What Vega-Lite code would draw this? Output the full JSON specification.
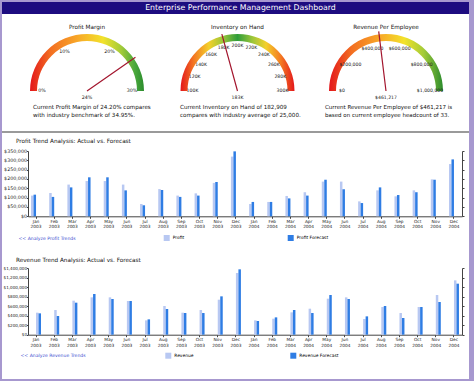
{
  "$schema": "https://vega.github.io/schema/vega-lite/v6.json",
  "background": "#a798cf",
  "padding": {"left": 2, "top": 2, "right": 5, "bottom": 4},
  "spacing": 0,
  "resolve": {"scale": {"color": "independent", "theta": "independent"}, "legend": {"color": "independent"}},
  "config": {
    "font": "DejaVu Sans",
    "view": {"stroke": null, "fill": "white"},
    "concat": {"spacing": 0},
    "title": {"fontWeight": "normal", "color": "#111111", "font": "DejaVu Sans"},
    "axis": {"labelFont": "DejaVu Sans", "labelColor": "#222222", "domainColor": "#444444", "tickColor": "#444444", "grid": false}
  },
  "datasets": {
    "profit": [
      {"month": "Jan 2003", "Profit": 111000, "Profit Forecast": 116000},
      {"month": "Feb 2003", "Profit": 125000, "Profit Forecast": 104000},
      {"month": "Mar 2003", "Profit": 170000, "Profit Forecast": 155000},
      {"month": "Apr 2003", "Profit": 189000, "Profit Forecast": 209000},
      {"month": "May 2003", "Profit": 189000, "Profit Forecast": 209000},
      {"month": "Jun 2003", "Profit": 170000, "Profit Forecast": 139000},
      {"month": "Jul 2003", "Profit": 66000, "Profit Forecast": 59000},
      {"month": "Aug 2003", "Profit": 146000, "Profit Forecast": 141000},
      {"month": "Sep 2003", "Profit": 111000, "Profit Forecast": 104000},
      {"month": "Oct 2003", "Profit": 123000, "Profit Forecast": 111000},
      {"month": "Nov 2003", "Profit": 179000, "Profit Forecast": 184000},
      {"month": "Dec 2003", "Profit": 320000, "Profit Forecast": 348000},
      {"month": "Jan 2004", "Profit": 66000, "Profit Forecast": 77000},
      {"month": "Feb 2004", "Profit": 77000, "Profit Forecast": 77000},
      {"month": "Mar 2004", "Profit": 109000, "Profit Forecast": 96000},
      {"month": "Apr 2004", "Profit": 129000, "Profit Forecast": 111000},
      {"month": "May 2004", "Profit": 186000, "Profit Forecast": 196000},
      {"month": "Jun 2004", "Profit": 186000, "Profit Forecast": 145000},
      {"month": "Jul 2004", "Profit": 80000, "Profit Forecast": 71000},
      {"month": "Aug 2004", "Profit": 139000, "Profit Forecast": 155000},
      {"month": "Sep 2004", "Profit": 107000, "Profit Forecast": 114000},
      {"month": "Oct 2004", "Profit": 139000, "Profit Forecast": 129000},
      {"month": "Nov 2004", "Profit": 198000, "Profit Forecast": 196000},
      {"month": "Dec 2004", "Profit": 280000, "Profit Forecast": 305000}
    ],
    "revenue": [
      {"month": "Jan 2003", "Revenue": 462000, "Revenue Forecast": 448000},
      {"month": "Feb 2003", "Revenue": 518000, "Revenue Forecast": 392000},
      {"month": "Mar 2003", "Revenue": 714000, "Revenue Forecast": 672000},
      {"month": "Apr 2003", "Revenue": 784000, "Revenue Forecast": 854000},
      {"month": "May 2003", "Revenue": 784000, "Revenue Forecast": 749000},
      {"month": "Jun 2003", "Revenue": 707000, "Revenue Forecast": 707000},
      {"month": "Jul 2003", "Revenue": 301000, "Revenue Forecast": 322000},
      {"month": "Aug 2003", "Revenue": 602000, "Revenue Forecast": 539000},
      {"month": "Sep 2003", "Revenue": 462000, "Revenue Forecast": 455000},
      {"month": "Oct 2003", "Revenue": 518000, "Revenue Forecast": 455000},
      {"month": "Nov 2003", "Revenue": 735000, "Revenue Forecast": 805000},
      {"month": "Dec 2003", "Revenue": 1295000, "Revenue Forecast": 1372000},
      {"month": "Jan 2004", "Revenue": 301000, "Revenue Forecast": 287000},
      {"month": "Feb 2004", "Revenue": 336000, "Revenue Forecast": 364000},
      {"month": "Mar 2004", "Revenue": 469000, "Revenue Forecast": 518000},
      {"month": "Apr 2004", "Revenue": 546000, "Revenue Forecast": 455000},
      {"month": "May 2004", "Revenue": 756000, "Revenue Forecast": 833000},
      {"month": "Jun 2004", "Revenue": 784000, "Revenue Forecast": 749000},
      {"month": "Jul 2004", "Revenue": 329000, "Revenue Forecast": 385000},
      {"month": "Aug 2004", "Revenue": 581000, "Revenue Forecast": 602000},
      {"month": "Sep 2004", "Revenue": 455000, "Revenue Forecast": 350000},
      {"month": "Oct 2004", "Revenue": 581000, "Revenue Forecast": 581000},
      {"month": "Nov 2004", "Revenue": 833000, "Revenue Forecast": 686000},
      {"month": "Dec 2004", "Revenue": 1141000, "Revenue Forecast": 1071000}
    ]
  },
  "vconcat": [
    {
      "width": 467, "height": 12,
      "view": {"fill": "#1d0c80", "stroke": null},
      "data": {"values": [{"t": "Enterprise Performance Management Dashboard"}]},
      "mark": {"type": "text", "color": "white", "fontSize": 7.8, "dx": 5, "baseline": "middle"},
      "encoding": {"text": {"field": "t"}}
    },
    {
      "spacing": -28.85,
      "resolve": {"scale": {"theta": "independent"}},
      "vconcat": [
        {
          "width": 467, "height": 37,
          "view": {"fill": "white", "stroke": null},
          "data": {"values": [{}]},
          "mark": {"type": "text", "text": "", "fontSize": 0.1}
        },
        {
          "bounds": "flush",
          "spacing": 0,
          "resolve": {"scale": {"theta": "independent"}},
          "hconcat": [
            {
              "width": 170, "height": 80,
              "view": {"fill": "white", "stroke": null},
              "title": {"text": ["Current Profit Margin of 24.20% compares", "with industry benchmark of 34.95%."], "orient": "bottom", "anchor": "start", "frame": "group", "offset": -26, "dx": 31, "fontSize": 5.6, "lineHeight": 7.7},
              "layer": [
                {
                  "data": {"values": [{"lo": 0, "hi": 30}]},
                  "mark": {"type": "arc", "radius": 57, "radius2": 50, "color": {"gradient": "linear", "stops": [{"offset": 0, "color": "#e3161b"}, {"offset": 0.18, "color": "#f36f21"}, {"offset": 0.42, "color": "#f8a828"}, {"offset": 0.64, "color": "#f2e22b"}, {"offset": 0.8, "color": "#a3cb39"}, {"offset": 0.92, "color": "#4aa83c"}, {"offset": 1, "color": "#2b8c2d"}]}},
                  "encoding": {
                    "theta": {"field": "lo", "type": "quantitative", "stack": null, "scale": {"domain": [0, 30], "range": [-1.5708, 1.5708]}},
                    "theta2": {"field": "hi"}
                  }
                },
                {
                  "data": {"values": [{"tick": 0, "label": "0%"}, {"tick": 10, "label": "10%"}, {"tick": 20, "label": "20%"}, {"tick": 30, "label": "30%"}]},
                  "mark": {"type": "text", "radius": 45, "fontSize": 4.8, "color": "#222222"},
                  "encoding": {
                    "theta": {"field": "tick", "type": "quantitative", "scale": {"domain": [0, 30], "range": [-1.5708, 1.5708]}},
                    "text": {"field": "label"}
                  }
                },
                {
                  "data": {"values": [{"value": 24.2, "label": "24%"}]},
                  "layer": [
                    {
                      "mark": {"type": "arc", "radius": 59, "radius2": 0, "stroke": "#a3162e", "strokeWidth": 1.2, "fill": "#a3162e"},
                      "encoding": {
                        "theta": {"field": "value", "type": "quantitative", "stack": null, "scale": {"domain": [0, 30], "range": [-1.5708, 1.5708]}},
                        "theta2": {"field": "value"}
                      }
                    },
                    {
                      "mark": {"type": "text", "theta": 3.1416, "radius": 6.5, "fontSize": 4.8, "color": "#222222"},
                      "encoding": {"text": {"field": "label"}}
                    }
                  ]
                },
                {
                  "data": {"values": [{"t": "Profit Margin"}]},
                  "mark": {"type": "text", "theta": 0, "radius": 64, "fontSize": 5.7, "color": "#111111"},
                  "encoding": {"text": {"field": "t"}}
                }
              ]
            },
            {
              "width": 131, "height": 80,
              "view": {"fill": "white", "stroke": null},
              "title": {"text": ["Current Inventory on Hand of 182,909", "compares with industry average of 25,000."], "orient": "bottom", "anchor": "start", "frame": "group", "offset": -26, "dx": 8, "fontSize": 5.6, "lineHeight": 7.7},
              "layer": [
                {
                  "data": {"values": [{"lo": 100000, "hi": 300000}]},
                  "mark": {"type": "arc", "radius": 57, "radius2": 50, "color": {"gradient": "linear", "stops": [{"offset": 0, "color": "#e3161b"}, {"offset": 0.12, "color": "#f47a22"}, {"offset": 0.25, "color": "#f3d02b"}, {"offset": 0.37, "color": "#9cc63a"}, {"offset": 0.5, "color": "#2f9d3a"}, {"offset": 0.63, "color": "#9cc63a"}, {"offset": 0.75, "color": "#f3d02b"}, {"offset": 0.88, "color": "#f47a22"}, {"offset": 1, "color": "#e3161b"}]}},
                  "encoding": {
                    "theta": {"field": "lo", "type": "quantitative", "stack": null, "scale": {"domain": [100000, 300000], "range": [-1.5708, 1.5708]}},
                    "theta2": {"field": "hi"}
                  }
                },
                {
                  "data": {"values": [{"tick": 100000, "label": "100K"}, {"tick": 120000, "label": "120K"}, {"tick": 140000, "label": "140K"}, {"tick": 160000, "label": "160K"}, {"tick": 180000, "label": "180K"}, {"tick": 200000, "label": "200K"}, {"tick": 220000, "label": "220K"}, {"tick": 240000, "label": "240K"}, {"tick": 260000, "label": "260K"}, {"tick": 280000, "label": "280K"}, {"tick": 300000, "label": "300K"}]},
                  "mark": {"type": "text", "radius": 45, "fontSize": 4.6, "color": "#222222"},
                  "encoding": {
                    "theta": {"field": "tick", "type": "quantitative", "scale": {"domain": [100000, 300000], "range": [-1.5708, 1.5708]}},
                    "text": {"field": "label"}
                  }
                },
                {
                  "data": {"values": [{"value": 182909, "label": "183K"}]},
                  "layer": [
                    {
                      "mark": {"type": "arc", "radius": 59, "radius2": 0, "stroke": "#a3162e", "strokeWidth": 1.2, "fill": "#a3162e"},
                      "encoding": {
                        "theta": {"field": "value", "type": "quantitative", "stack": null, "scale": {"domain": [100000, 300000], "range": [-1.5708, 1.5708]}},
                        "theta2": {"field": "value"}
                      }
                    },
                    {
                      "mark": {"type": "text", "theta": 3.1416, "radius": 6.5, "fontSize": 4.6, "color": "#222222"},
                      "encoding": {"text": {"field": "label"}}
                    }
                  ]
                },
                {
                  "data": {"values": [{"t": "Inventory on Hand"}]},
                  "mark": {"type": "text", "theta": 0, "radius": 64, "fontSize": 5.7, "color": "#111111"},
                  "encoding": {"text": {"field": "t"}}
                }
              ]
            },
            {
              "width": 166, "height": 80,
              "view": {"fill": "white", "stroke": null},
              "title": {"text": ["Current Revenue Per Employee of $461,217 is", "based on current employee headcount of 33."], "orient": "bottom", "anchor": "start", "frame": "group", "offset": -26, "dx": 22, "fontSize": 5.5, "lineHeight": 7.7},
              "layer": [
                {
                  "data": {"values": [{"lo": 0, "hi": 1000000}]},
                  "mark": {"type": "arc", "radius": 57, "radius2": 50, "color": {"gradient": "linear", "stops": [{"offset": 0, "color": "#e3161b"}, {"offset": 0.2, "color": "#f36f21"}, {"offset": 0.45, "color": "#f8a828"}, {"offset": 0.66, "color": "#f3e22b"}, {"offset": 0.83, "color": "#a3cb39"}, {"offset": 1, "color": "#2b8c2d"}]}},
                  "encoding": {
                    "theta": {"field": "lo", "type": "quantitative", "stack": null, "scale": {"domain": [0, 1000000], "range": [-1.5708, 1.5708]}},
                    "theta2": {"field": "hi"}
                  }
                },
                {
                  "data": {"values": [{"tick": 0, "label": "$0"}, {"tick": 200000, "label": "$200,000"}, {"tick": 400000, "label": "$400,000"}, {"tick": 600000, "label": "$600,000"}, {"tick": 800000, "label": "$800,000"}, {"tick": 1000000, "label": "$1,000,000"}]},
                  "mark": {"type": "text", "radius": 44, "fontSize": 4.6, "color": "#222222"},
                  "encoding": {
                    "theta": {"field": "tick", "type": "quantitative", "scale": {"domain": [0, 1000000], "range": [-1.5708, 1.5708]}},
                    "text": {"field": "label"}
                  }
                },
                {
                  "data": {"values": [{"value": 461217, "label": "$461,217"}]},
                  "layer": [
                    {
                      "mark": {"type": "arc", "radius": 60, "radius2": 0, "stroke": "#a3162e", "strokeWidth": 1.2, "fill": "#a3162e"},
                      "encoding": {
                        "theta": {"field": "value", "type": "quantitative", "stack": null, "scale": {"domain": [0, 1000000], "range": [-1.5708, 1.5708]}},
                        "theta2": {"field": "value"}
                      }
                    },
                    {
                      "mark": {"type": "text", "theta": 3.1416, "radius": 7, "fontSize": 4.6, "color": "#222222"},
                      "encoding": {"text": {"field": "label"}}
                    }
                  ]
                },
                {
                  "data": {"values": [{"t": "Revenue Per Employee"}]},
                  "mark": {"type": "text", "theta": 0, "radius": 64, "fontSize": 5.7, "color": "#111111"},
                  "encoding": {"text": {"field": "t"}}
                }
              ]
            }
          ]
        }
      ]
    },
    {
      "width": 467, "height": 2,
      "view": {"fill": "#9a9a9a", "stroke": null},
      "data": {"values": [{}]},
      "mark": {"type": "text", "text": "", "fontSize": 0.1}
    },
    {
      "width": 467, "height": 117,
      "data": {"name": "profit"},
      "transform": [{"fold": ["Profit", "Profit Forecast"], "as": ["series", "value"]}],
      "title": {"text": "Profit Trend Analysis: Actual vs. Forecast", "anchor": "start", "frame": "group", "offset": -11, "dx": 14, "fontSize": 5.7},
      "layer": [
        {
          "mark": {"type": "bar"},
          "encoding": {
            "x": {"field": "month", "type": "ordinal", "sort": null,
              "scale": {"range": [26, 460], "paddingInner": 0.45, "paddingOuter": 0.167},
              "axis": {"orient": "bottom", "offset": -33.7, "labelExpr": "split(datum.label, ' ')", "labelAngle": 0, "labelFontSize": 4.3, "labelLineHeight": 5.2, "labelPadding": 1, "tickSize": 2,
                "title": "<< Analyze Profit Trends", "titleX": 16, "titleY": 21.7, "titleAlign": "left", "titleAnchor": null, "titleBaseline": "middle", "titleColor": "#3d4fcf", "titleFontSize": 4.6, "titleFontWeight": "normal"}},
            "xOffset": {"field": "series", "scale": {"paddingInner": 0, "paddingOuter": 0}},
            "y": {"field": "value", "type": "quantitative",
              "scale": {"domain": [0, 350000], "range": [83.3, 18], "nice": false, "zero": true},
              "axis": {"orient": "left", "offset": -26, "values": [0, 50000, 100000, 150000, 200000, 250000, 300000, 350000], "format": "$,.0f", "title": null, "labelFontSize": 4.8, "tickSize": 1.5, "labelPadding": 0}},
            "color": {"field": "series", "type": "nominal",
              "scale": {"domain": ["Profit", "Profit Forecast"], "range": ["#b8c8f2", "#2f7de4"]},
              "legend": {"orient": "none", "legendX": 161.7, "legendY": 102, "direction": "horizontal", "title": null, "symbolType": "square", "symbolSize": 36, "symbolStrokeWidth": 0, "labelFontSize": 4.4, "labelOffset": 3, "columnPadding": 103, "padding": 0}}
          }
        },
        {
          "mark": {"type": "tick", "opacity": 0},
          "encoding": {
            "y": {"field": "value", "type": "quantitative",
              "axis": {"orient": "right", "offset": -7, "labels": false, "title": null, "tickSize": 2, "values": [0, 50000, 100000, 150000, 200000, 250000, 300000, 350000]}}
          }
        }
      ],
      "resolve": {"axis": {"y": "independent"}}
    },
    {
      "width": 467, "height": 129,
      "data": {"name": "revenue"},
      "transform": [{"fold": ["Revenue", "Revenue Forecast"], "as": ["series", "value"]}],
      "title": {"text": "Revenue Trend Analysis: Actual vs. Forecast", "anchor": "start", "frame": "group", "offset": -12.5, "dx": 14, "fontSize": 5.7},
      "layer": [
        {
          "mark": {"type": "bar"},
          "encoding": {
            "x": {"field": "month", "type": "ordinal", "sort": null,
              "scale": {"range": [26, 460], "paddingInner": 0.45, "paddingOuter": 0.167},
              "axis": {"orient": "bottom", "offset": -44.3, "labelExpr": "split(datum.label, ' ')", "labelAngle": 0, "labelFontSize": 4.3, "labelLineHeight": 5.8, "labelPadding": 1, "tickSize": 2,
                "title": "<< Analyze Revenue Trends", "titleX": 18, "titleY": 21, "titleAlign": "left", "titleAnchor": null, "titleBaseline": "middle", "titleColor": "#3d4fcf", "titleFontSize": 4.6, "titleFontWeight": "normal"}},
            "xOffset": {"field": "series", "scale": {"paddingInner": 0, "paddingOuter": 0}},
            "y": {"field": "value", "type": "quantitative",
              "scale": {"domain": [0, 1400000], "range": [84.7, 18], "nice": false, "zero": true},
              "axis": {"orient": "left", "offset": -26, "values": [0, 200000, 400000, 600000, 800000, 1000000, 1200000, 1400000], "format": "$,.0f", "title": null, "labelFontSize": 4.1, "tickSize": 1.5, "labelPadding": 0}},
            "color": {"field": "series", "type": "nominal",
              "scale": {"domain": ["Revenue", "Revenue Forecast"], "range": ["#b8c8f2", "#2f7de4"]},
              "legend": {"orient": "none", "legendX": 163.3, "legendY": 102.7, "direction": "horizontal", "title": null, "symbolType": "square", "symbolSize": 36, "symbolStrokeWidth": 0, "labelFontSize": 4.4, "labelOffset": 3, "columnPadding": 96, "padding": 0}}
          }
        },
        {
          "mark": {"type": "tick", "opacity": 0},
          "encoding": {
            "y": {"field": "value", "type": "quantitative",
              "axis": {"orient": "right", "offset": -7, "labels": false, "title": null, "tickSize": 2, "values": [0, 200000, 400000, 600000, 800000, 1000000, 1200000, 1400000]}}
          }
        }
      ],
      "resolve": {"axis": {"y": "independent"}}
    }
  ]
}
